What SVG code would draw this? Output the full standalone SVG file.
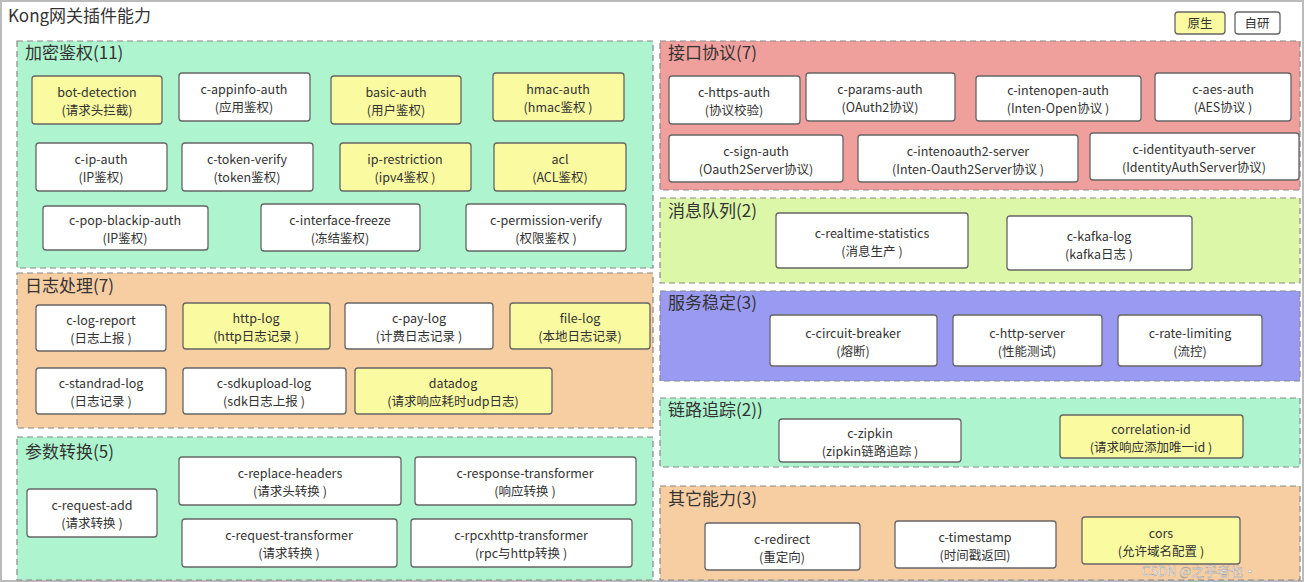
<svg xmlns="http://www.w3.org/2000/svg" width="1304" height="582" viewBox="0 0 1304 582">
<style>
text{font-family:"Noto Sans CJK SC","Liberation Sans",sans-serif;fill:#333}
.g{stroke:#888;stroke-width:1.2;stroke-dasharray:6 4}
.n rect{stroke:#666;stroke-width:1.3;rx:3}
.w{fill:#fff}.y{fill:#fafaa0}
.n text{font-size:12.5px;text-anchor:middle}
.h{font-size:17px}
</style>
<rect x="1" y="1" width="1302" height="580" fill="#fff" stroke="#bbb" stroke-width="2"/>
<text x="8" y="22" class="h">Kong网关插件能力</text>
<g id="groups">
<rect class="g" x="17" y="41" width="636" height="227" fill="#aef5cf"/>
<text x="25" y="59" class="h">加密鉴权(11)</text>
<rect class="g" x="17" y="273" width="636" height="155" fill="#f7cda2"/>
<text x="25" y="292" class="h">日志处理(7)</text>
<rect class="g" x="17" y="437" width="636" height="143" fill="#aef5cf"/>
<text x="25" y="458" class="h">参数转换(5)</text>
<rect class="g" x="660" y="41" width="640" height="149" fill="#f0a09c"/>
<text x="668" y="59" class="h">接口协议(7)</text>
<rect class="g" x="660" y="198" width="640" height="85" fill="#dcf7a8"/>
<text x="668" y="217" class="h">消息队列(2)</text>
<rect class="g" x="660" y="291" width="640" height="90" fill="#9a9af2"/>
<text x="668" y="309" class="h">服务稳定(3)</text>
<rect class="g" x="660" y="398" width="640" height="69" fill="#aef5cf"/>
<text x="668" y="416" class="h">链路追踪(2))</text>
<rect class="g" x="660" y="486" width="640" height="94" fill="#f7cda2"/>
<text x="668" y="505" class="h">其它能力(3)</text>
</g>
<g id="legend" class="n">
<rect class="y" x="1175" y="12" width="50" height="22"/><text x="1200" y="28">原生</text>
<rect class="w" x="1235" y="12" width="45" height="22"/><text x="1257" y="28">自研</text>
</g>
<g id="bot-detection" class="n"><rect class="y" x="32" y="76" width="130" height="48"/><text x="97" y="97">bot-detection</text><text x="97" y="115">(请求头拦截)</text></g>
<g id="c-appinfo-auth" class="n"><rect class="w" x="179" y="73" width="131" height="48"/><text x="244" y="94">c-appinfo-auth</text><text x="244" y="112">(应用鉴权)</text></g>
<g id="basic-auth" class="n"><rect class="y" x="331" y="76" width="130" height="48"/><text x="396" y="97">basic-auth</text><text x="396" y="115">(用户鉴权)</text></g>
<g id="hmac-auth" class="n"><rect class="y" x="493" y="73" width="131" height="48"/><text x="558" y="94">hmac-auth</text><text x="558" y="112">(hmac鉴权 )</text></g>
<g id="c-ip-auth" class="n"><rect class="w" x="36" y="143" width="131" height="48"/><text x="101" y="164">c-ip-auth</text><text x="101" y="182">(IP鉴权)</text></g>
<g id="c-token-verify" class="n"><rect class="w" x="182" y="143" width="131" height="48"/><text x="247" y="164">c-token-verify</text><text x="247" y="182">(token鉴权)</text></g>
<g id="ip-restriction" class="n"><rect class="y" x="340" y="143" width="131" height="48"/><text x="405" y="164">ip-restriction</text><text x="405" y="182">(ipv4鉴权 )</text></g>
<g id="acl" class="n"><rect class="y" x="494" y="143" width="132" height="48"/><text x="560" y="164">acl</text><text x="560" y="182">(ACL鉴权)</text></g>
<g id="c-pop-blackip-auth" class="n"><rect class="w" x="43" y="206" width="165" height="44"/><text x="125" y="225">c-pop-blackip-auth</text><text x="125" y="243">(IP鉴权)</text></g>
<g id="c-interface-freeze" class="n"><rect class="w" x="261" y="204" width="159" height="47"/><text x="340" y="225">c-interface-freeze</text><text x="340" y="243">(冻结鉴权)</text></g>
<g id="c-permission-verify" class="n"><rect class="w" x="466" y="204" width="160" height="47"/><text x="546" y="225">c-permission-verify</text><text x="546" y="243">(权限鉴权 )</text></g>

<g id="c-log-report" class="n"><rect class="w" x="36" y="305" width="130" height="46"/><text x="101" y="325">c-log-report</text><text x="101" y="343">(日志上报 )</text></g>
<g id="http-log" class="n"><rect class="y" x="183" y="303" width="147" height="46"/><text x="256" y="323">http-log</text><text x="256" y="341">(http日志记录 )</text></g>
<g id="c-pay-log" class="n"><rect class="w" x="345" y="303" width="148" height="46"/><text x="419" y="323">c-pay-log</text><text x="419" y="341">(计费日志记录 )</text></g>
<g id="file-log" class="n"><rect class="y" x="510" y="303" width="140" height="46"/><text x="580" y="323">file-log</text><text x="580" y="341">(本地日志记录)</text></g>
<g id="c-standrad-log" class="n"><rect class="w" x="36" y="368" width="130" height="46"/><text x="101" y="388">c-standrad-log</text><text x="101" y="406">(日志记录 )</text></g>
<g id="c-sdkupload-log" class="n"><rect class="w" x="183" y="368" width="163" height="46"/><text x="264" y="388">c-sdkupload-log</text><text x="264" y="406">(sdk日志上报 )</text></g>
<g id="datadog" class="n"><rect class="y" x="355" y="368" width="197" height="46"/><text x="453" y="388">datadog</text><text x="453" y="406">(请求响应耗时udp日志)</text></g>

<g id="c-request-add" class="n"><rect class="w" x="27" y="489" width="130" height="48"/><text x="92" y="510">c-request-add</text><text x="92" y="528">(请求转换 )</text></g>
<g id="c-replace-headers" class="n"><rect class="w" x="179" y="457" width="222" height="48"/><text x="290" y="478">c-replace-headers</text><text x="290" y="496">(请求头转换  )</text></g>
<g id="c-response-transformer" class="n"><rect class="w" x="415" y="457" width="221" height="48"/><text x="525" y="478">c-response-transformer</text><text x="525" y="496">(响应转换 )</text></g>
<g id="c-request-transformer" class="n"><rect class="w" x="182" y="519" width="215" height="48"/><text x="289" y="540">c-request-transformer</text><text x="289" y="558">(请求转换 )</text></g>
<g id="c-rpcxhttp-transformer" class="n"><rect class="w" x="411" y="519" width="221" height="48"/><text x="521" y="540">c-rpcxhttp-transformer</text><text x="521" y="558">(rpc与http转换    )</text></g>

<g id="c-https-auth" class="n"><rect class="w" x="669" y="76" width="131" height="48"/><text x="734" y="97">c-https-auth</text><text x="734" y="115">(协议校验)</text></g>
<g id="c-params-auth" class="n"><rect class="w" x="806" y="73" width="149" height="48"/><text x="880" y="94">c-params-auth</text><text x="880" y="112">(OAuth2协议)</text></g>
<g id="c-intenopen-auth" class="n"><rect class="w" x="976" y="76" width="165" height="45"/><text x="1058" y="95">c-intenopen-auth</text><text x="1058" y="113">(Inten-Open协议 )</text></g>
<g id="c-aes-auth" class="n"><rect class="w" x="1155" y="73" width="136" height="48"/><text x="1223" y="94">c-aes-auth</text><text x="1223" y="112">(AES协议 )</text></g>
<g id="c-sign-auth" class="n"><rect class="w" x="669" y="135" width="174" height="47"/><text x="756" y="156">c-sign-auth</text><text x="756" y="174">(Oauth2Server协议)</text></g>
<g id="c-intenoauth2-server" class="n"><rect class="w" x="858" y="135" width="220" height="47"/><text x="968" y="156">c-intenoauth2-server</text><text x="968" y="174">(Inten-Oauth2Server协议 )</text></g>
<g id="c-identityauth-server" class="n"><rect class="w" x="1090" y="133" width="209" height="47"/><text x="1194" y="154">c-identityauth-server</text><text x="1194" y="172">(IdentityAuthServer协议)</text></g>

<g id="c-realtime-statistics" class="n"><rect class="w" x="776" y="213" width="192" height="55"/><text x="872" y="238">c-realtime-statistics</text><text x="872" y="256">(消息生产 )</text></g>
<g id="c-kafka-log" class="n"><rect class="w" x="1007" y="216" width="185" height="54"/><text x="1099" y="241">c-kafka-log</text><text x="1099" y="259">(kafka日志 )</text></g>

<g id="c-circuit-breaker" class="n"><rect class="w" x="770" y="315" width="167" height="51"/><text x="853" y="338">c-circuit-breaker</text><text x="853" y="356">(熔断)</text></g>
<g id="c-http-server" class="n"><rect class="w" x="953" y="315" width="149" height="51"/><text x="1027" y="338">c-http-server</text><text x="1027" y="356">(性能测试)</text></g>
<g id="c-rate-limiting" class="n"><rect class="w" x="1118" y="315" width="144" height="51"/><text x="1190" y="338">c-rate-limiting</text><text x="1190" y="356">(流控)</text></g>

<g id="c-zipkin" class="n"><rect class="w" x="779" y="419" width="182" height="43"/><text x="870" y="438">c-zipkin</text><text x="870" y="456">(zipkin链路追踪 )</text></g>
<g id="correlation-id" class="n"><rect class="y" x="1060" y="415" width="183" height="43"/><text x="1151" y="434">correlation-id</text><text x="1151" y="452">(请求响应添加唯一id )</text></g>

<g id="c-redirect" class="n"><rect class="w" x="705" y="523" width="155" height="47"/><text x="782" y="544">c-redirect</text><text x="782" y="562">(重定向)</text></g>
<g id="c-timestamp" class="n"><rect class="w" x="895" y="521" width="161" height="47"/><text x="975" y="542">c-timestamp</text><text x="975" y="560">(时间戳返回)</text></g>
<g id="cors" class="n"><rect class="y" x="1082" y="517" width="158" height="47"/><text x="1161" y="538">cors</text><text x="1161" y="556">(允许域名配置 )</text></g>
<g id="connectors"/>
<text x="1142" y="576" style="font-size:13px;fill:#fff;stroke:#999;stroke-width:0.4">CSDN @之乎者也·</text>
</svg>
